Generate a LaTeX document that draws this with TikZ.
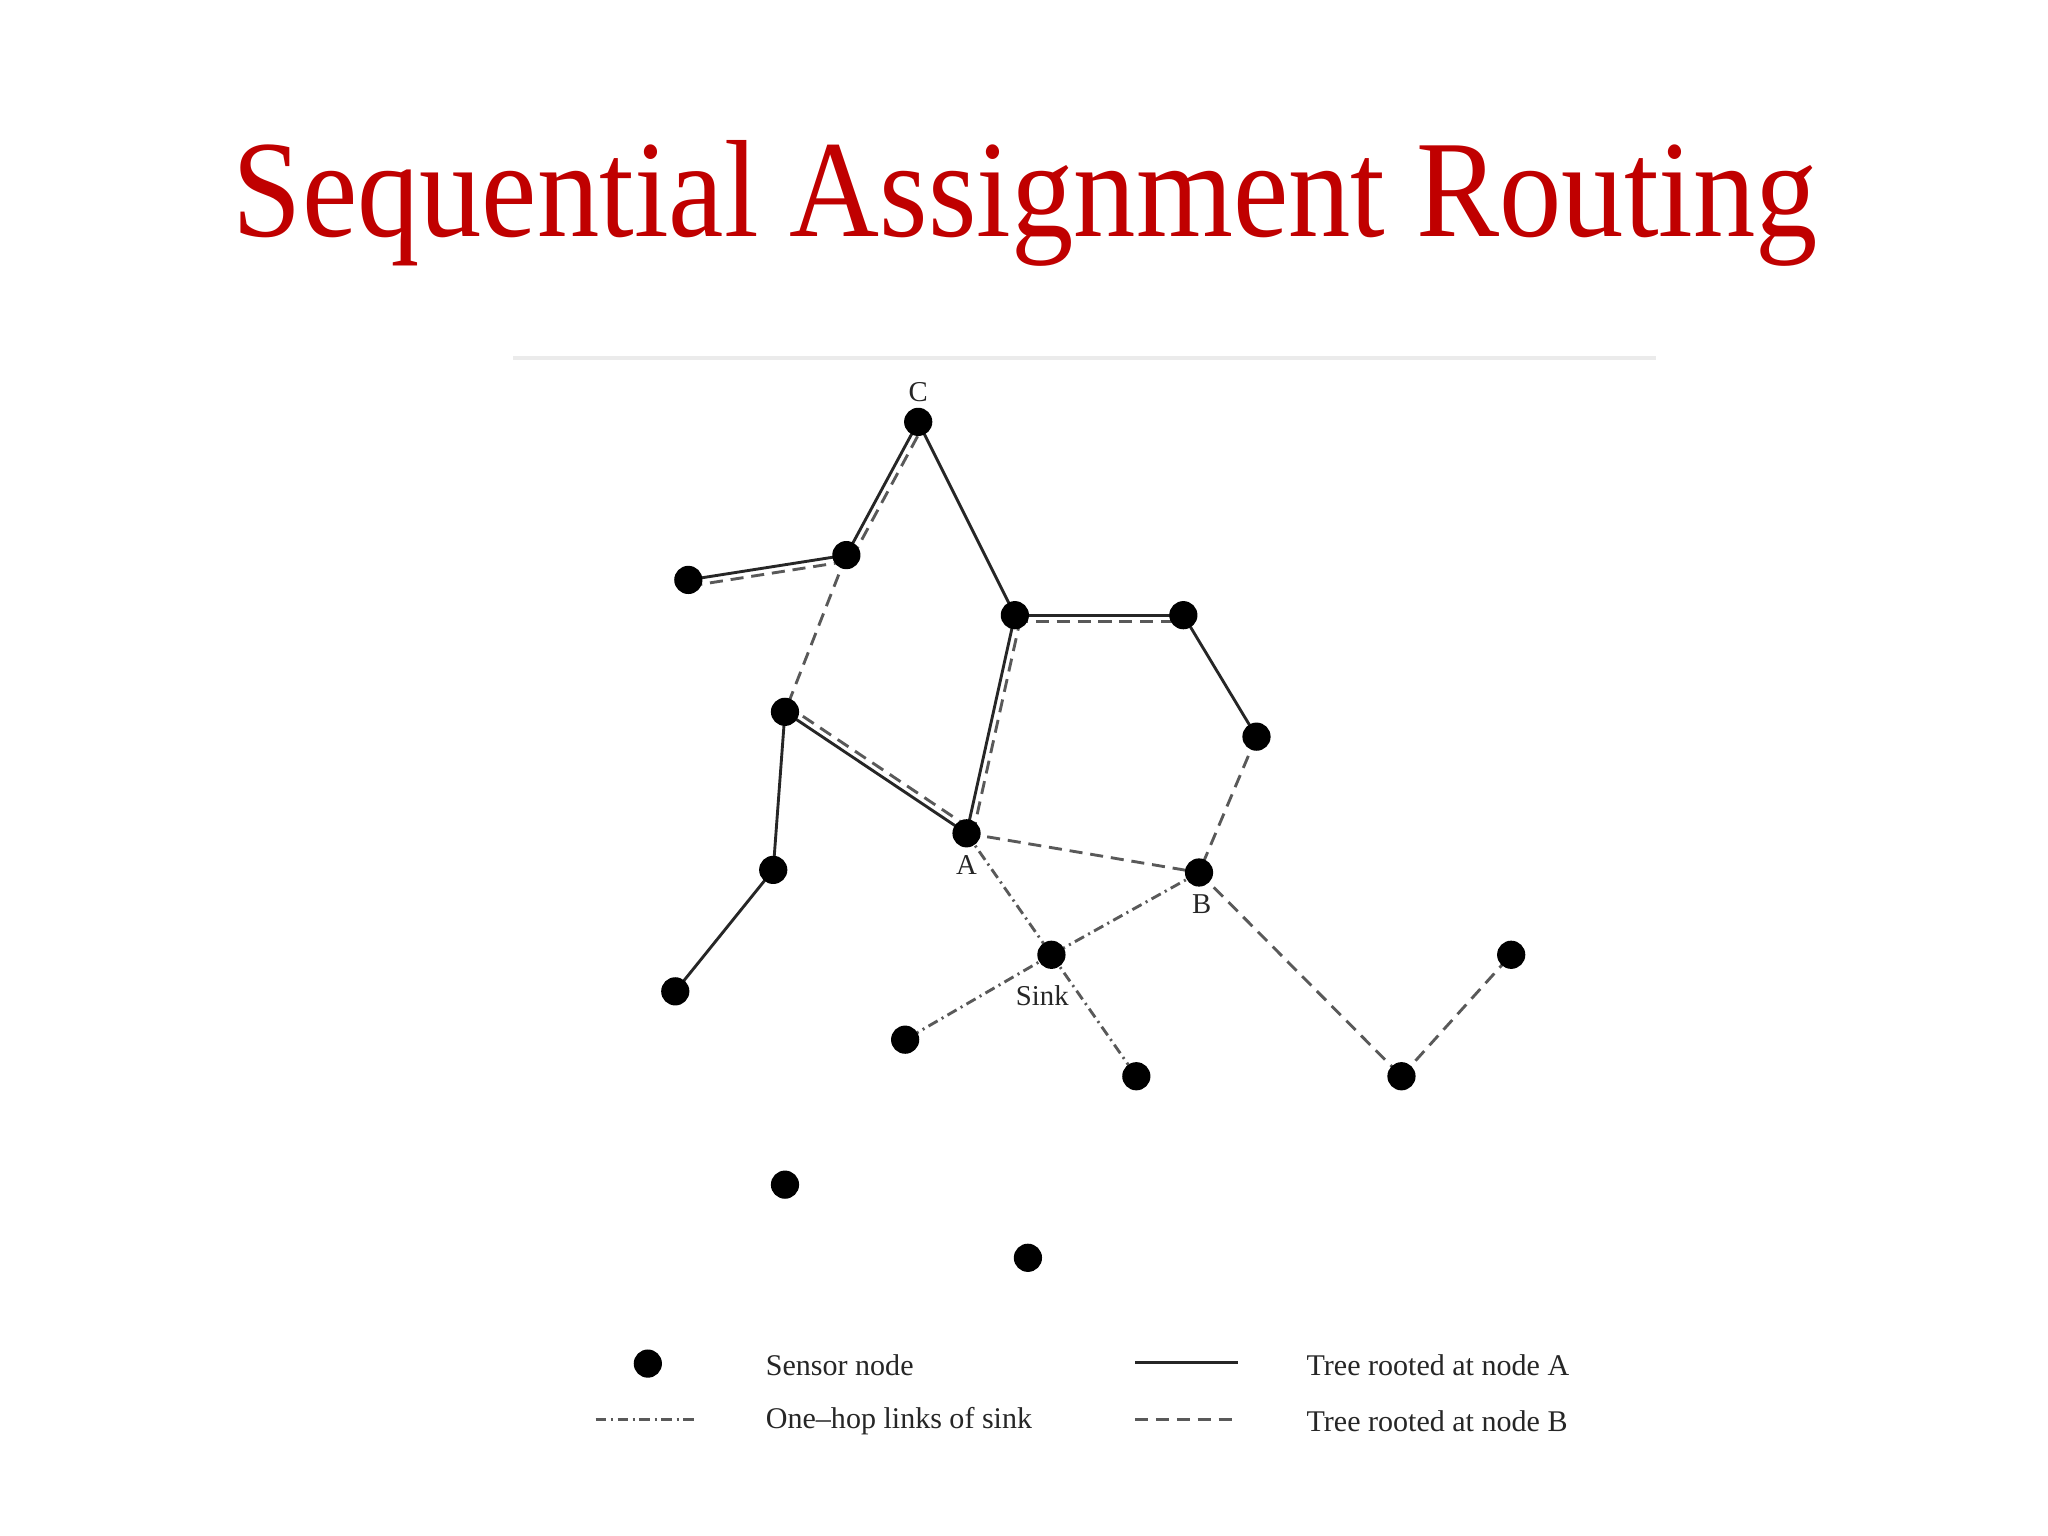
\documentclass[tikz,border=0pt]{standalone}
\usepackage{fontspec}
\setmainfont{Liberation Serif}
\usetikzlibrary{calc}
\definecolor{titlered}{RGB}{192,0,0}
\pgfdeclarelayer{back}
\pgfdeclarelayer{bg}
\pgfsetlayers{back,bg,main}
\newcommand\dbl[2]{%
  \draw[treeA] (#1.center) -- (#2.center);
  \draw[treeB] ($(#1.center)!2.4pt!-90:(#2.center)$) -- ($(#2.center)!2.4pt!90:(#1.center)$);}
\begin{document}
\begin{tikzpicture}[x=0.5pt,y=-0.5pt,
  sensor/.style={circle,fill=black,inner sep=0pt,minimum size=10.8pt},
  treeA/.style={line width=1.1pt,black!85},
  treeB/.style={line width=1.1pt,black!65,dash pattern=on 5pt off 3pt},
  onehop/.style={line width=1.1pt,black!65,dash pattern=on 4pt off 1.8pt on 0.8pt off 1.8pt},
  lbl/.style={font=\fontsize{11}{13}\selectfont,inner sep=0pt,text=black!85},
  leg/.style={font=\fontsize{11.5}{13}\selectfont,inner sep=0pt,anchor=west,text=black!85}]
\useasboundingbox (0,0) rectangle (1568,1176);
\begin{pgfonlayer}{back}
  \fill[white] (0,0) rectangle (1568,1176);
\end{pgfonlayer}
% title
\node[font=\fontsize{53}{60}\selectfont,text=titlered,anchor=base,inner sep=0pt,xscale=0.9] (title) at (785,181) {Sequential Assignment Routing};
\draw[black!8,line width=1.5pt] (393,274) -- (1268,274);
% sensors
\node[sensor] (C) at (703,323) {};
\node[sensor] (n1) at (527,444) {};
\node[sensor] (n2) at (648,425) {};
\node[sensor] (n3) at (777,471) {};
\node[sensor] (n4) at (906,471) {};
\node[sensor] (n5) at (962,564) {};
\node[sensor] (n6) at (601,545) {};
\node[sensor] (A) at (740,638) {};
\node[sensor] (B) at (918,668) {};
\node[sensor] (n7) at (592,666) {};
\node[sensor] (n8) at (517,759) {};
\node[sensor] (sink) at (805,731) {};
\node[sensor] (n9) at (693,796) {};
\node[sensor] (n10) at (870,824) {};
\node[sensor] (n11) at (1073,824) {};
\node[sensor] (n12) at (1157,731) {};
\node[sensor] (n13) at (601,907) {};
\node[sensor] (n14) at (787,963) {};
% labels
\node[lbl] (labC) at (703,300) {C};
\node[lbl] (labA) at (740,662) {A};
\node[lbl] (labB) at (920,692) {B};
\node[lbl] (labS) at (798,762) {Sink};
\begin{pgfonlayer}{bg}
  \dbl{n2}{C}
  \dbl{n1}{n2}
  \dbl{n3}{n4}
  \dbl{A}{n3}
  \dbl{A}{n6}
  \draw[treeA] (C.center) -- (n3.center);
  \draw[treeA] (n4.center) -- (n5.center);
  \draw[treeA] (n6.center) -- (n7.center);
  \draw[treeA] (n7.center) -- (n8.center);
  \draw[treeB] (n2.center) -- (n6.center);
  \draw[treeB] (n5.center) -- (B.center);
  \draw[treeB] (A.center) -- (B.center);
  \draw[treeB] (B.center) -- (n11.center);
  \draw[treeB] (n11.center) -- (n12.center);
  \draw[onehop] (A.center) -- (sink.center);
  \draw[onehop] (B.center) -- (sink.center);
  \draw[onehop] (sink.center) -- (n9.center);
  \draw[onehop] (sink.center) -- (n10.center);
\end{pgfonlayer}
% legend
\node[sensor] (legdot) at (496,1044) {};
\node[leg] (legt1) at (586,1045) {Sensor node};
\coordinate (la1) at (869,1043);
\coordinate (la2) at (948,1043);
\draw[treeA] (la1) -- (la2);
\node[leg] (legt2) at (1000,1045) {Tree rooted at node A};
\coordinate (lo1) at (456,1087);
\coordinate (lo2) at (534,1087);
\draw[onehop] (lo1) -- (lo2);
\node[leg] (legt3) at (586,1088) {One--hop links of sink};
\coordinate (lb1) at (869,1087);
\coordinate (lb2) at (944,1087);
\draw[treeB] (lb1) -- (lb2);
\node[leg] (legt4) at (1000,1088) {Tree rooted at node B};
\end{tikzpicture}
\end{document}
